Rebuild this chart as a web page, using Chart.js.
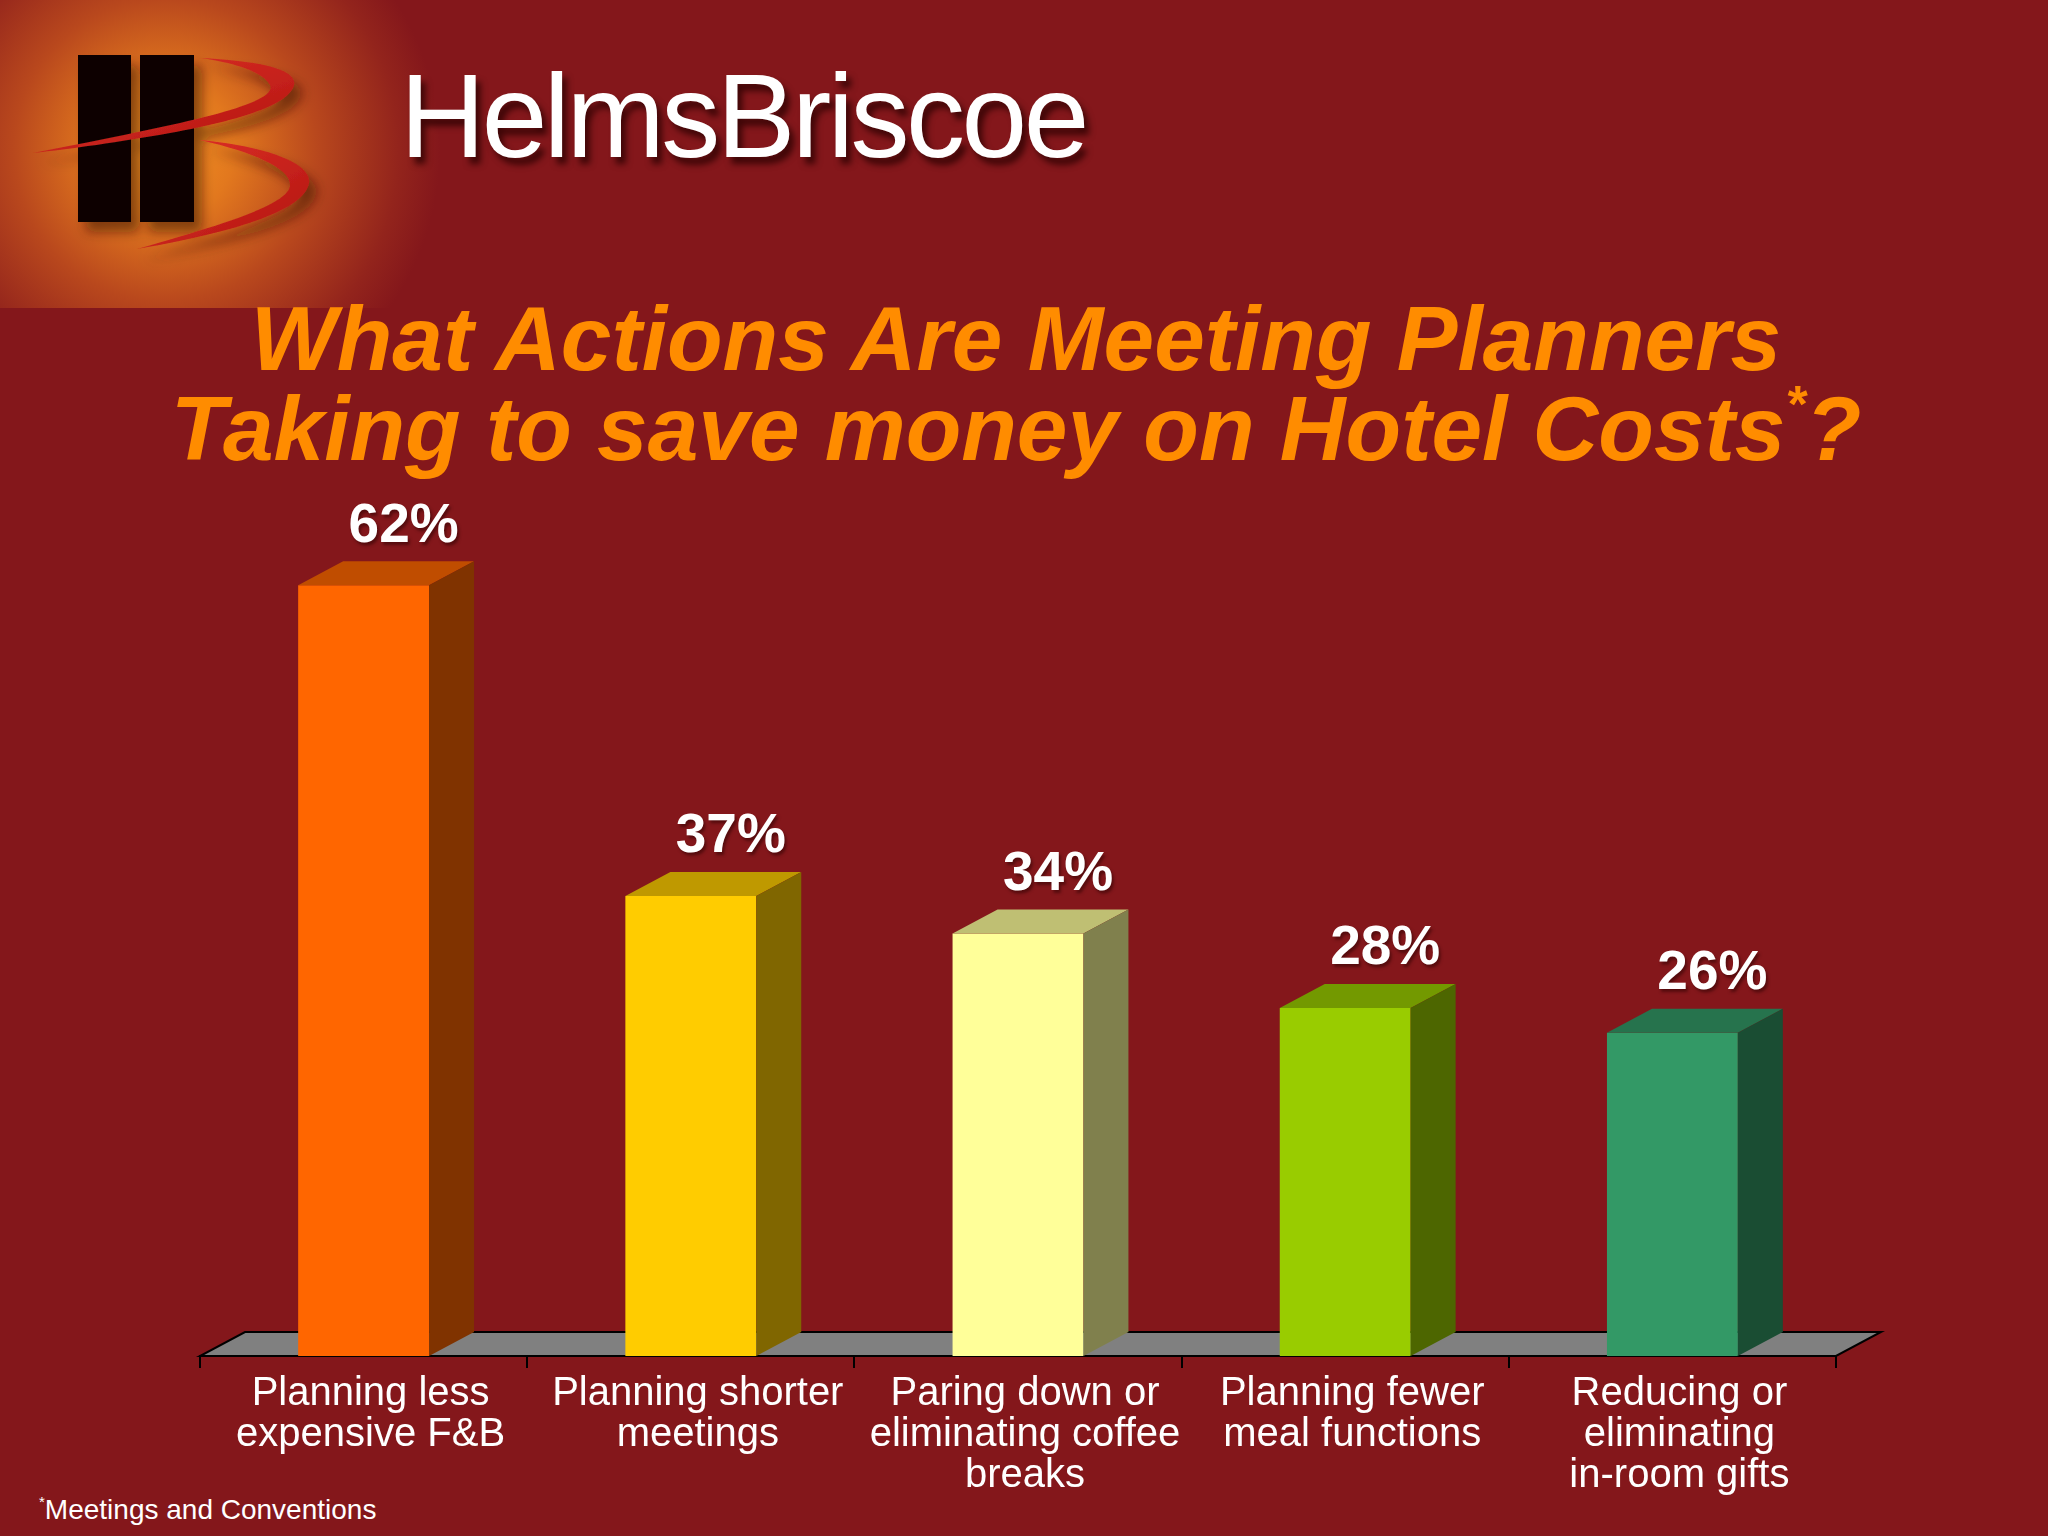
<!DOCTYPE html>
<html>
<head>
<meta charset="utf-8">
<script src="https://cdn.jsdelivr.net/npm/chart.js@4/dist/chart.umd.min.js"></script>
<style>
html,body{margin:0;padding:0;background:#84171b;}
#wrap{position:relative;width:2048px;height:1536px;overflow:hidden;background:#84171b;font-family:"Liberation Sans",Arial,sans-serif;}
#c{position:absolute;left:0;top:0;}
#logo{position:absolute;left:0;top:0;}
#brand{position:absolute;left:400px;top:57px;font-size:118px;line-height:118px;color:#fff;letter-spacing:-3.5px;white-space:nowrap;text-shadow:5px 7px 6px rgba(40,0,0,0.75);}
#title{position:absolute;left:0;top:294px;width:2032px;text-align:center;font-size:91px;line-height:90px;font-weight:bold;font-style:italic;color:#ff8c00;white-space:nowrap;}
#title sup{font-size:52px;line-height:0;vertical-align:38px;}
#foot{position:absolute;left:39px;top:1496px;font-size:28px;line-height:28px;color:#fff;white-space:nowrap;}
#foot sup{font-size:15px;line-height:0;vertical-align:12px;}
</style>
</head>
<body>
<div id="wrap">
<svg id="logo" width="440" height="320" viewBox="0 0 440 320">
  <defs>
    <radialGradient id="glow" cx="165" cy="150" r="275" gradientUnits="userSpaceOnUse">
      <stop offset="0" stop-color="#f39022"/>
      <stop offset="0.25" stop-color="#e2781e"/>
      <stop offset="0.55" stop-color="#b9481d"/>
      <stop offset="0.85" stop-color="#93241c"/>
      <stop offset="1" stop-color="#84171b"/>
    </radialGradient>
    <linearGradient id="red" x1="0" y1="0" x2="1" y2="1">
      <stop offset="0" stop-color="#e2322a"/>
      <stop offset="1" stop-color="#b01410"/>
    </linearGradient>
    <filter id="sh" x="-20%" y="-20%" width="150%" height="150%">
      <feDropShadow dx="8" dy="10" stdDeviation="6" flood-color="#3a0c00" flood-opacity="0.55"/>
    </filter>
  </defs>
  <rect x="0" y="0" width="440" height="308" fill="url(#glow)"/>
  <g filter="url(#sh)">
    <rect x="78" y="55" width="53" height="167" fill="#0d0503"/>
    <rect x="140" y="55" width="54" height="167" fill="#0d0503"/>
    <path d="M200,58 C262,61 302,70 293,88 C283,108 230,122 170,133 C120,142 70,149 33,153 C80,144 130,134 180,123 C238,110 276,97 270,85 C263,72 236,63 200,58 Z" fill="url(#red)"/>
    <path d="M200,140 C272,147 312,165 309,183 C305,207 250,230 137,249 C232,222 287,204 290,186 C292,168 252,152 200,140 Z" fill="url(#red)"/>
  </g>
</svg>
<div id="brand">HelmsBriscoe</div>
<div id="title">What Actions Are Meeting Planners<br>Taking to save money on Hotel Costs<sup>*</sup>?</div>
<div id="foot"><sup>*</sup>Meetings and Conventions</div>
<canvas id="c" width="2048" height="1536"></canvas>
</div>
<script>
const categories = [
  ["Planning less", "expensive F&B"],
  ["Planning shorter", "meetings"],
  ["Paring down or", "eliminating coffee", "breaks"],
  ["Planning fewer", "meal functions"],
  ["Reducing or", "eliminating", "in-room gifts"]
];
const values = [62, 37, 34, 28, 26];
const valueLabels = ["62%", "37%", "34%", "28%", "26%"];

const frontColors = ["#ff6600", "#ffcc00", "#ffff99", "#99cc00", "#339966"];
const topColors   = ["#c04d00", "#bf9900", "#bfbf73", "#739900", "#26734d"];
const sideColors  = ["#803300", "#806600", "#80804d", "#4d6600", "#1a4d33"];

const DX = 45, DY = 24;

const threeD = {
  id: 'threeD',
  beforeDatasetsDraw(chart) {
    const ctx = chart.ctx, a = chart.chartArea;
    ctx.save();
    ctx.beginPath();
    ctx.moveTo(a.left, a.bottom);
    ctx.lineTo(a.right, a.bottom);
    ctx.lineTo(a.right + DX, a.bottom - DY);
    ctx.lineTo(a.left + DX, a.bottom - DY);
    ctx.closePath();
    ctx.fillStyle = '#808080';
    ctx.fill();
    ctx.strokeStyle = '#000';
    ctx.lineWidth = 2;
    ctx.stroke();
    ctx.restore();
  },
  afterDatasetsDraw(chart) {
    const ctx = chart.ctx;
    const meta = chart.getDatasetMeta(0);
    ctx.save();
    meta.data.forEach((bar, i) => {
      const p = bar.getProps(['x', 'y', 'base', 'width'], true);
      const l = p.x - p.width / 2, r = p.x + p.width / 2;
      ctx.beginPath();
      ctx.moveTo(l, p.y); ctx.lineTo(r, p.y);
      ctx.lineTo(r + DX, p.y - DY); ctx.lineTo(l + DX, p.y - DY);
      ctx.closePath();
      ctx.fillStyle = topColors[i]; ctx.fill();
      ctx.beginPath();
      ctx.moveTo(r, p.y); ctx.lineTo(r + DX, p.y - DY);
      ctx.lineTo(r + DX, p.base - DY); ctx.lineTo(r, p.base);
      ctx.closePath();
      ctx.fillStyle = sideColors[i]; ctx.fill();
      ctx.font = 'bold 55px "Liberation Sans", Arial, sans-serif';
      ctx.textAlign = 'center';
      ctx.textBaseline = 'middle';
      ctx.shadowColor = 'rgba(40,0,0,0.5)';
      ctx.shadowOffsetX = 2; ctx.shadowOffsetY = 3; ctx.shadowBlur = 3;
      ctx.fillStyle = '#ffffff';
      ctx.fillText(valueLabels[i], p.x + 40, p.y - 59);
      ctx.shadowColor = 'transparent';
    });
    ctx.restore();
  }
};

new Chart(document.getElementById('c'), {
  type: 'bar',
  data: {
    labels: categories,
    datasets: [{
      data: values,
      backgroundColor: frontColors,
      borderWidth: 0,
      barPercentage: 0.4,
      categoryPercentage: 1.0
    }]
  },
  options: {
    responsive: false,
    animation: false,
    devicePixelRatio: 1,
    layout: { padding: { left: 200, right: 212, top: 113, bottom: 0 } },
    plugins: { legend: { display: false }, tooltip: { enabled: false }, title: { display: false } },
    scales: {
      y: { display: false, min: 0, max: 100 },
      x: {
        offset: true,
        afterFit(scale) { scale.height = 180; },
        border: { display: true, color: '#000', width: 2 },
        grid: { display: true, offset: true, drawOnChartArea: false, drawTicks: true, tickLength: 12, color: '#000', lineWidth: 2 },
        ticks: {
          color: '#ffffff',
          padding: 6,
          labelOffset: 7,
          maxRotation: 0,
          autoSkip: false,
          font: { family: '"Liberation Sans", Arial, sans-serif', size: 40, lineHeight: 1.02 }
        }
      }
    }
  },
  plugins: [threeD]
});
</script>
</body>
</html>
